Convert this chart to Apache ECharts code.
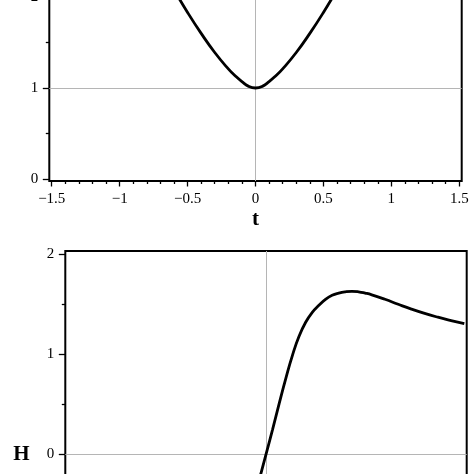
<!DOCTYPE html>
<html><head><meta charset="utf-8">
<script src="https://cdn.jsdelivr.net/npm/echarts@6/dist/echarts.min.js"></script>
<style>html,body{margin:0;padding:0;background:#fff}#c{width:474px;height:474px}</style>
</head><body><div id="c"></div>
<script>
// top panel: curve vs t
const topT = [-0.7, -0.6, -0.5, -0.4, -0.3, -0.2, -0.15, -0.1, -0.05, 0, 0.05, 0.1, 0.15, 0.2, 0.3, 0.4, 0.5, 0.6, 0.7];
const topV = [2.34, 2.08, 1.83, 1.6, 1.39, 1.21, 1.135, 1.07, 1.018, 1.0, 1.018, 1.07, 1.135, 1.21, 1.39, 1.6, 1.83, 2.08, 2.34];
// bottom panel: H vs t
const botT = [-0.3, -0.25, -0.2, -0.15, -0.1, -0.05, 0, 0.05, 0.1, 0.15, 0.2, 0.25, 0.3, 0.35, 0.4, 0.45, 0.5, 0.55, 0.6, 0.65, 0.7, 0.75, 0.8, 0.9, 1.0, 1.1, 1.2, 1.3, 1.4, 1.5];
const botH = [-1.32, -1.18, -0.99, -0.76, -0.51, -0.25, 0, 0.25, 0.51, 0.76, 0.99, 1.18, 1.32, 1.42, 1.49, 1.55, 1.59, 1.612, 1.625, 1.63, 1.625, 1.612, 1.595, 1.55, 1.5, 1.452, 1.409, 1.371, 1.337, 1.306];
// ticks
const xMajor = [-1.5, -1, -0.5, 0, 0.5, 1, 1.5];
const xMinor = [-1.4, -1.3, -1.2, -1.1, -0.9, -0.8, -0.7, -0.6, -0.4, -0.3, -0.2, -0.1, 0.1, 0.2, 0.3, 0.4, 0.6, 0.7, 0.8, 0.9, 1.1, 1.2, 1.3, 1.4];
const topYMajor = [0, 1, 2];
const topYMinor = [0.5, 1.5];
const botYMajor = [-2, -1, 0, 1, 2];
const botYMinor = [-1.5, -0.5, 0.5, 1.5];
// reference lines
const topRefX = [0], topRefY = [1];
const botRefX = [0], botRefY = [0];

const serif = 'Liberation Serif';
const fmt = v => String(v).replace('-', '\u2212');
const lab = (vals, margin) => ({customValues: vals, formatter: fmt, margin: margin, fontFamily: serif, fontSize: 15, color: '#000'});
const tick = (vals, len) => ({customValues: vals, length: len, lineStyle: {color: '#000', width: 1.3}});

function xAx(grid, major, name) {
  const a = {gridIndex: grid, type: 'value', min: -1.518, max: 1.518, position: 'bottom',
    axisLine: {show: false, onZero: false}, splitLine: {show: false}};
  if (major) {
    Object.assign(a, {axisTick: tick(xMajor, 5.5), axisLabel: lab(xMajor, 11)});
    if (name) Object.assign(a, {name: name, nameLocation: 'middle', nameGap: 28,
      nameTextStyle: {fontFamily: serif, fontWeight: 'bold', fontSize: 21, color: '#000'}});
  } else {
    Object.assign(a, {axisTick: tick(xMinor, 3), axisLabel: {show: false}});
  }
  return a;
}
function yAx(grid, min, max, vals, len, labels, name) {
  const a = {gridIndex: grid, type: 'value', min: min, max: max, position: 'left',
    axisLine: {show: false, onZero: false}, splitLine: {show: false}, axisTick: tick(vals, len),
    axisLabel: labels ? lab(vals, 11) : {show: false}};
  if (name) Object.assign(a, {name: name, nameLocation: 'middle', nameRotate: 0, nameGap: 44,
    nameTextStyle: {fontFamily: serif, fontWeight: 'bold', fontSize: 21, color: '#000', align: 'center', verticalAlign: 'middle', padding: [6, 0, 0, 0]}});
  return a;
}
const refLines = (xs, ys) => ({
  silent: true, symbol: 'none', animation: false,
  lineStyle: {color: '#b5b5b5', width: 1, type: 'solid'}, label: {show: false},
  data: xs.map(v => ({xAxis: v})).concat(ys.map(v => ({yAxis: v})))
});

const chart = echarts.init(document.getElementById('c'));
chart.setOption({
  animation: false,
  backgroundColor: '#fff',
  grid: [
    {left: 49.3, right: 12.3, top: -5, bottom: 293, outerBoundsMode: 'none', containLabel: false,
      show: true, borderColor: '#000', borderWidth: 2},
    {left: 65.3, right: 7.3, top: 251, bottom: -183.6, outerBoundsMode: 'none', containLabel: false,
      show: true, borderColor: '#000', borderWidth: 2}
  ],
  xAxis: [xAx(0, true, 't'), xAx(0, false), xAx(1, true), xAx(1, false)],
  yAxis: [
    yAx(0, -0.022, 2.022, topYMajor, 6.5, true),
    yAx(0, -0.022, 2.022, topYMinor, 3.5, false),
    yAx(1, -2.033, 2.033, botYMajor, 6.5, true, 'H'),
    yAx(1, -2.033, 2.033, botYMinor, 3.5, false)
  ],
  series: [
    {type: 'line', xAxisIndex: 0, yAxisIndex: 0, data: [], z: 1, markLine: refLines(topRefX, topRefY)},
    {type: 'line', xAxisIndex: 2, yAxisIndex: 2, data: [], z: 1, markLine: refLines(botRefX, botRefY)},
    {type: 'line', xAxisIndex: 0, yAxisIndex: 0, z: 5, smooth: true, showSymbol: false,
      lineStyle: {color: '#000', width: 2.8}, data: topT.map((t, i) => [t, topV[i]])},
    {type: 'line', xAxisIndex: 2, yAxisIndex: 2, z: 5, smooth: true, showSymbol: false,
      lineStyle: {color: '#000', width: 2.8}, data: botT.map((t, i) => [t, botH[i]])}
  ]
});
</script></body></html>
